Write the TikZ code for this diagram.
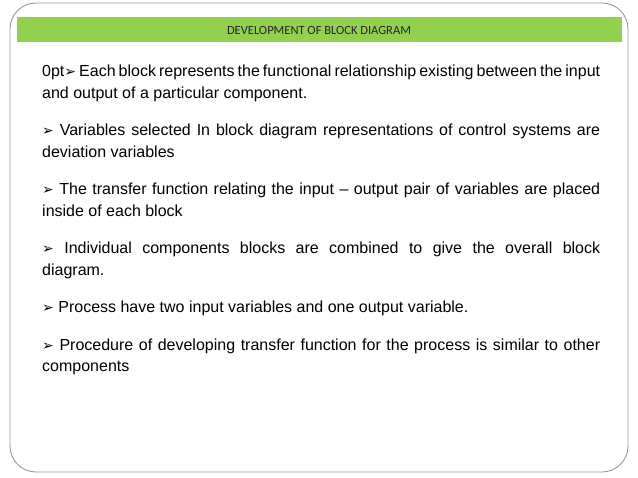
\documentclass[tikz,border=0pt]{standalone}
\usepackage{fontspec}
\setmainfont{Liberation Sans}
\newfontfamily\titlefont{Carlito}
\newfontfamily\djv{DejaVu Sans}
\definecolor{titlegreen}{RGB}{146,208,80}
\newcommand{\bul}{{\djv\fontsize{14}{21}\selectfont➢}}
\begin{document}
\begin{tikzpicture}[x=1pt,y=-1pt,
  bodytext/.style={anchor=north west,text width=558pt,align=justify,inner sep=0pt,font=\fontsize{16}{21.5}\selectfont\hyphenpenalty=10000\exhyphenpenalty=10000}]
\useasboundingbox (0,0) rectangle (638,478);
\draw[gray!80,line width=0.9pt,rounded corners=26pt] (10,3) rectangle (628,472);
\fill[titlegreen] (17,17) rectangle (622,42);
\node[font=\titlefont\fontsize{12.5}{14}\selectfont,text=black!85] (title) at (319,30) {DEVELOPMENT OF BLOCK DIAGRAM};
\node[bodytext] (body) at (42,65) {%
\bul{} Each block represents the functional relationship existing between the input\linebreak and output of a particular component.\par\vspace{16pt}
\bul{} Variables selected In block diagram representations of control systems are\linebreak deviation variables\par\vspace{16pt}
\bul{} The transfer function relating the input – output pair of variables are placed\linebreak inside of each block\par\vspace{16pt}
\bul{} Individual components blocks are combined to give the overall block\linebreak diagram.\par\vspace{16pt}
\bul{} Process have two input variables and one output variable.\par\vspace{16pt}
\bul{} Procedure of developing transfer function for the process is similar to other\linebreak components};
\end{tikzpicture}
\end{document}
